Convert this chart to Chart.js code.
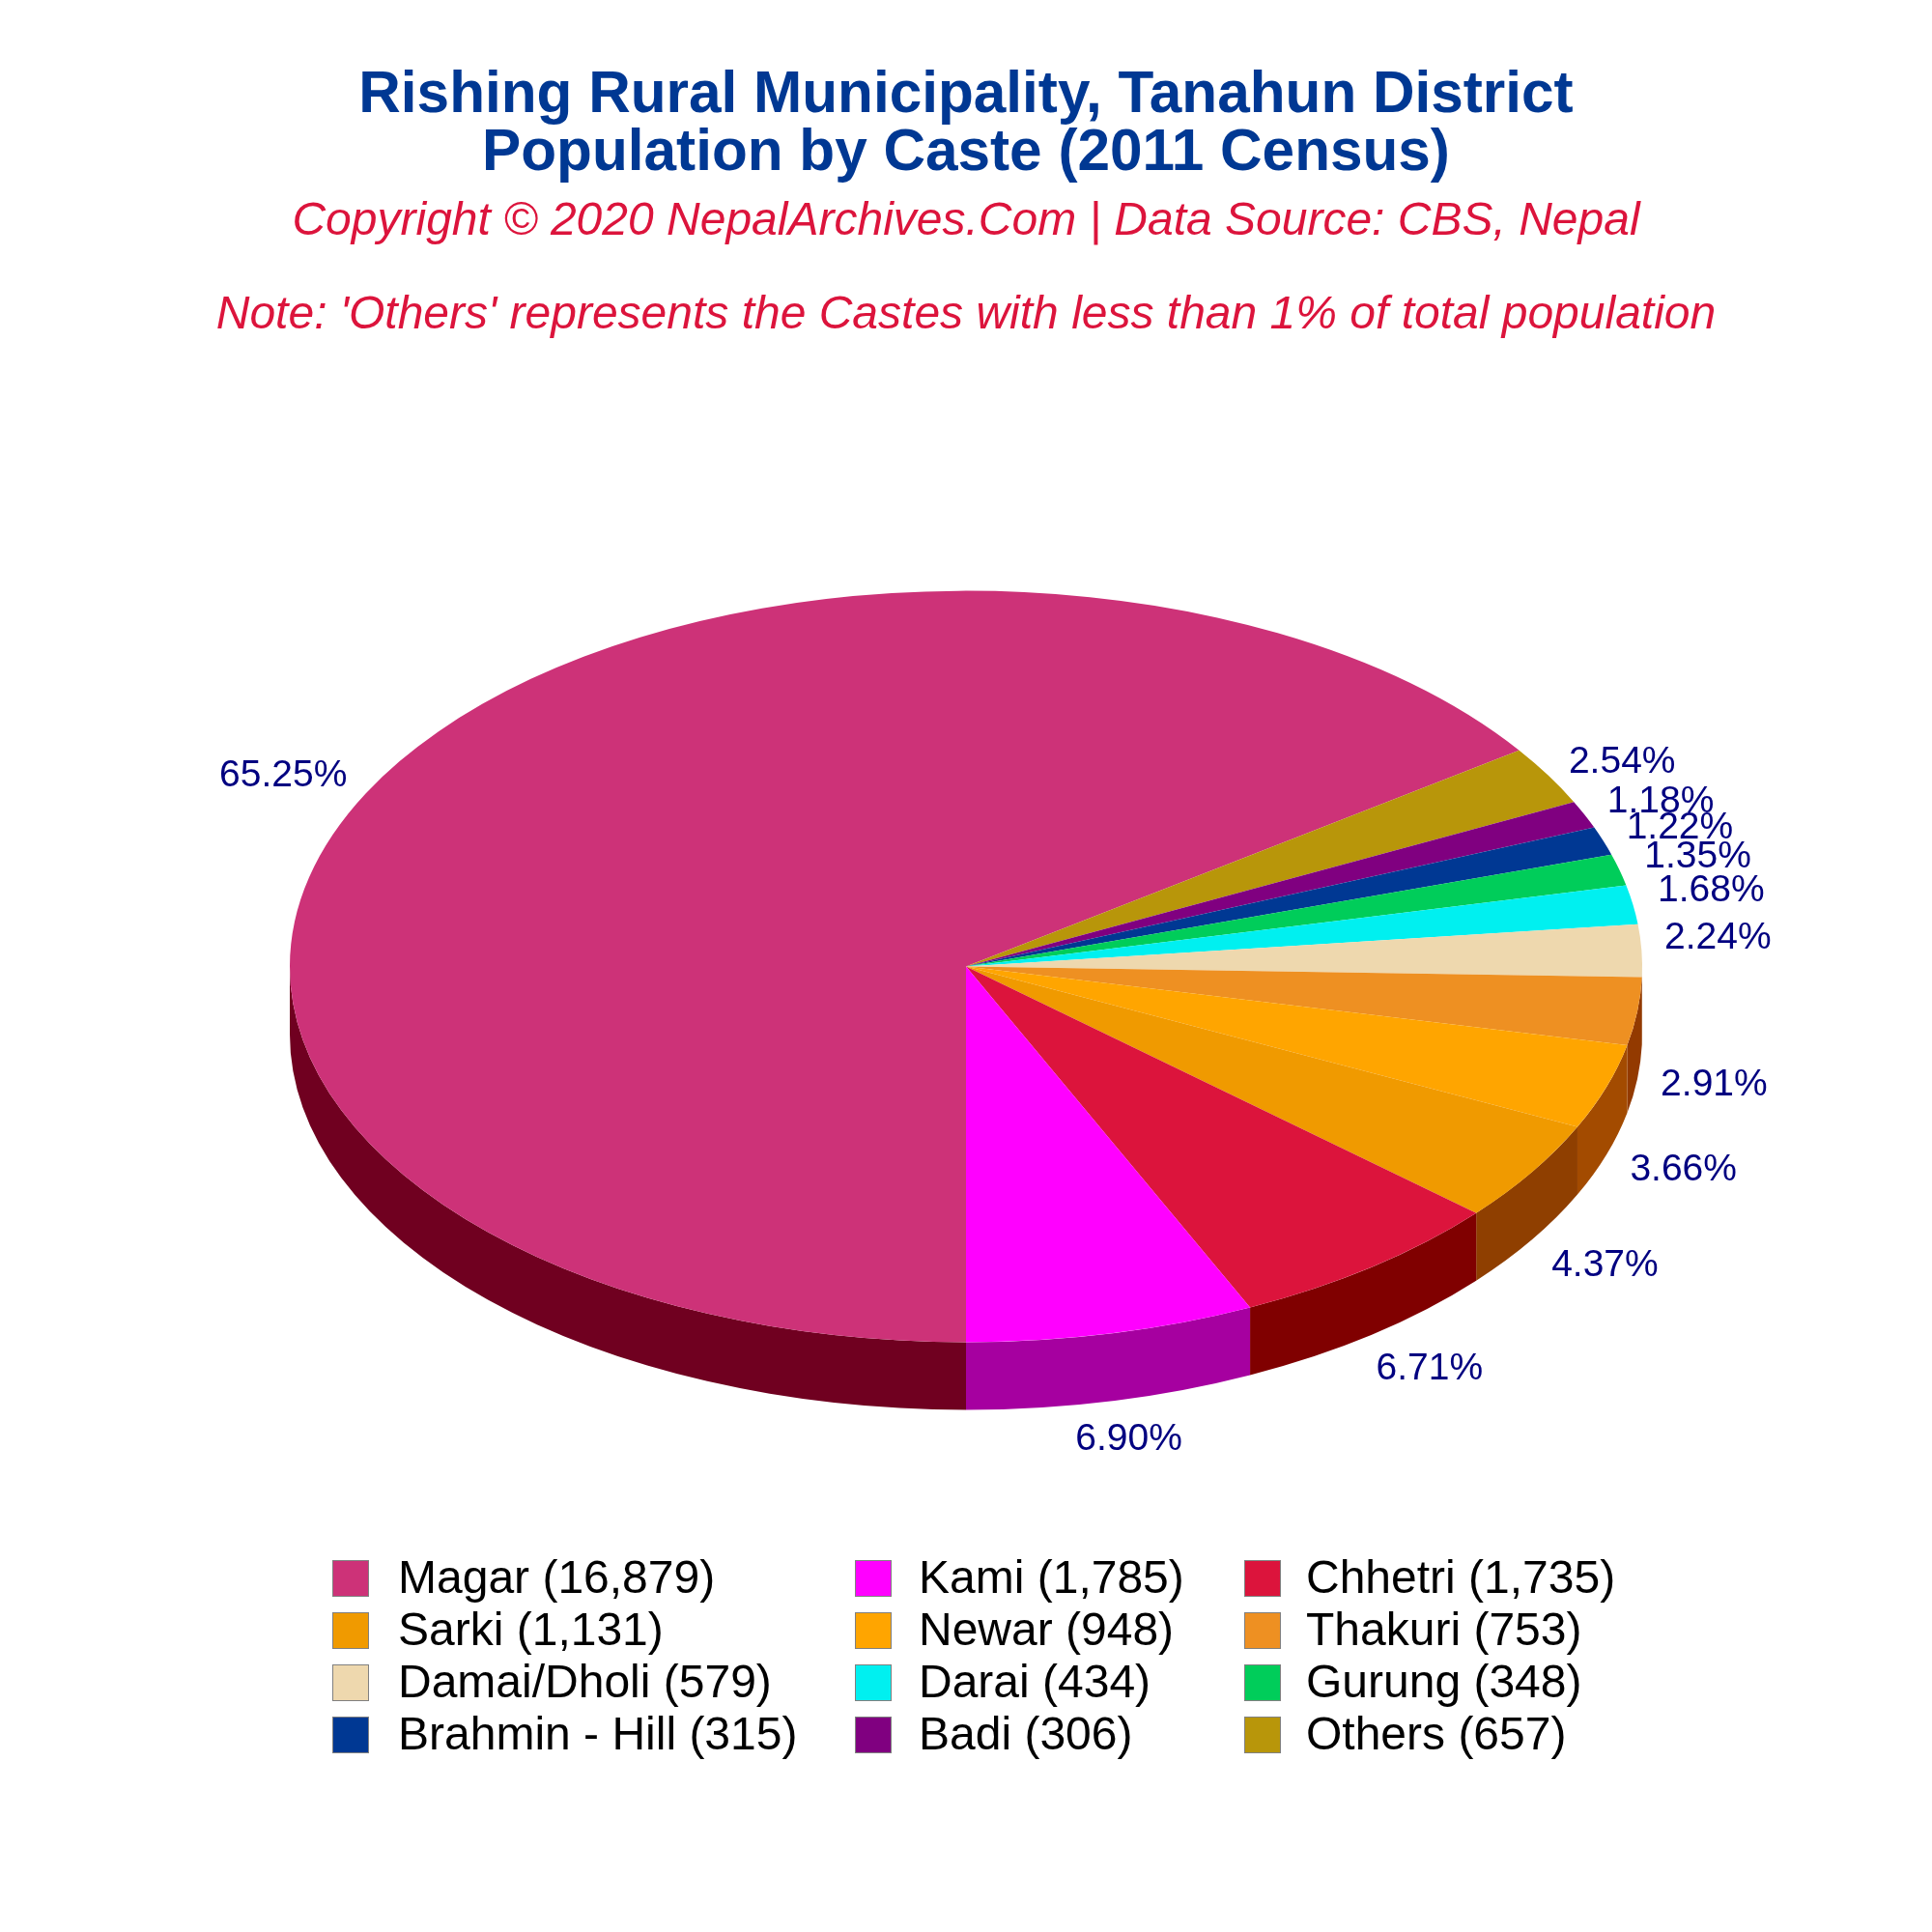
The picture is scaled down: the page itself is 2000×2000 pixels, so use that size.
<!DOCTYPE html>
<html>
<head>
<meta charset="utf-8">
<title>Rishing Rural Municipality - Population by Caste</title>
<script src="https://cdn.jsdelivr.net/npm/chart.js@4/dist/chart.umd.min.js"></script>
<style>
    html, body { margin: 0; padding: 0; background: #ffffff; }
    canvas { display: block; }
</style>
</head>
<body>
<canvas id="caste-chart" width="2000" height="2000"></canvas>
<script>
// Chart data, legend order
const categories = ['Magar', 'Kami', 'Chhetri', 'Sarki', 'Newar', 'Thakuri', 'Damai/Dholi', 'Darai', 'Gurung', 'Brahmin - Hill', 'Badi', 'Others'];
const population = [16879, 1785, 1735, 1131, 948, 753, 579, 434, 348, 315, 306, 657];
const topColors = ['#CD3278', '#FF00FF', '#DC143C', '#F09A00', '#FFA500', '#EE9022', '#EED8AE', '#00F0F0', '#00CD5A', '#003893', '#800080', '#B8960A'];
const sideColors = ['#700020', '#A600A0', '#800000', '#8F3F00', '#A34B00', '#933A00', '#9A8A70', '#009A9A', '#00803A', '#00245F', '#530053', '#78610A'];

const titleLines = ['Rishing Rural Municipality, Tanahun District', 'Population by Caste (2011 Census)'];
const subtitleLines = ['Copyright \u00A9 2020 NepalArchives.Com | Data Source: CBS, Nepal', '', "Note: 'Others' represents the Castes with less than 1% of total population"];

// Pie is squashed to look tilted, with a wall below the front edge
const TILT = 0.5556;
const WALL_DEPTH = 70;
const FONT = '"Liberation Sans", Arial, sans-serif';

// Small per-category label corrections in px, the reference spreads crowded labels
const labelShiftX = [-11, 0, 9, 5, 0, -4, -5, -2, 0, 0, 2, 4];
const labelShiftY = [0, 2, 5, 6, 4, 2, -11, -8, -3, 0, 3, 6];

// Slices run counter-clockwise from the bottom, Chart.js runs clockwise
const drawOrder = categories.map((name, i) => (i === 0 ? 0 : categories.length - i));
const total = population.reduce((sum, value) => sum + value, 0);

/**
 * Draw the wall of the slices facing the viewer
 */
function drawWalls(chart) {
    const ctx = chart.ctx;
    chart.getDatasetMeta(0).data.forEach((arc, index) => {
        const { x, y, startAngle, endAngle, outerRadius } = arc.getProps(['x', 'y', 'startAngle', 'endAngle', 'outerRadius'], true);
        const ry = outerRadius * TILT;
        // Only the canvas angles 0..PI (and again one turn on) are in front
        [0, 2 * Math.PI].forEach(turn => {
            const from = Math.max(startAngle, turn);
            const to = Math.min(endAngle, turn + Math.PI);
            if (from >= to) return;
            ctx.beginPath();
            ctx.ellipse(x, y, outerRadius, ry, 0, from, to);
            ctx.ellipse(x, y + WALL_DEPTH, outerRadius, ry, 0, to, from, true);
            ctx.closePath();
            ctx.fillStyle = sideColors[drawOrder[index]];
            ctx.fill();
        });
    });
}

const tiltPlugin = {
    id: 'tilt',
    beforeDatasetDraw(chart) {
        drawWalls(chart);
        const ctx = chart.ctx;
        const arc = chart.getDatasetMeta(0).data[0];
        ctx.save();
        ctx.translate(arc.x, arc.y);
        ctx.scale(1, TILT);
        ctx.translate(-arc.x, -arc.y);
    },
    afterDatasetDraw(chart) {
        chart.ctx.restore();
    }
};

const percentLabelPlugin = {
    id: 'percentLabels',
    afterDraw(chart) {
        const ctx = chart.ctx;
        ctx.save();
        ctx.font = '39px ' + FONT;
        ctx.fillStyle = '#000080';
        ctx.textAlign = 'center';
        ctx.textBaseline = 'middle';
        chart.getDatasetMeta(0).data.forEach((arc, index) => {
            const category = drawOrder[index];
            const mid = (arc.startAngle + arc.endAngle) / 2;
            const sin = Math.sin(mid);
            const labelX = arc.x + arc.outerRadius * 1.12 * Math.cos(mid) + labelShiftX[category];
            const labelY = arc.y + arc.outerRadius * TILT * 1.10 * sin + (sin > 0 ? WALL_DEPTH : 0) + labelShiftY[category];
            ctx.fillText((population[category] / total * 100).toFixed(2) + '%', labelX, labelY);
        });
        ctx.restore();
    }
};

const legendPlugin = {
    id: 'casteLegend',
    afterDraw(chart) {
        const ctx = chart.ctx;
        const swatchX = [344, 885, 1288];
        const textX = [412, 951, 1352];
        ctx.save();
        ctx.font = '48px ' + FONT;
        ctx.textAlign = 'left';
        ctx.textBaseline = 'middle';
        categories.forEach((name, i) => {
            const col = i % 3;
            const top = 1615 + Math.floor(i / 3) * 54;
            ctx.fillStyle = topColors[i];
            ctx.fillRect(swatchX[col], top, 38, 38);
            ctx.strokeStyle = '#808080';
            ctx.lineWidth = 1;
            ctx.strokeRect(swatchX[col] + 0.5, top + 0.5, 37, 37);
            ctx.fillStyle = '#000000';
            ctx.fillText(name + ' (' + population[i].toLocaleString('en-US') + ')', textX[col], top + 21);
        });
        ctx.restore();
    }
};

new Chart(document.getElementById('caste-chart'), {
    type: 'pie',
    data: {
        labels: drawOrder.map(i => categories[i]),
        datasets: [{
            data: drawOrder.map(i => population[i]),
            backgroundColor: drawOrder.map(i => topColors[i]),
            borderWidth: 0,
            radius: 700,
            clip: false
        }]
    },
    options: {
        responsive: false,
        animation: false,
        devicePixelRatio: 1,
        rotation: 180,
        layout: { padding: { top: 69, bottom: 350 } },
        plugins: {
            legend: { display: false },
            tooltip: { enabled: false },
            title: {
                display: true,
                text: titleLines,
                color: '#003893',
                font: { family: FONT, size: 60.3, weight: 'bold', lineHeight: 1 },
                padding: { top: 0, bottom: 16 }
            },
            subtitle: {
                display: true,
                text: subtitleLines,
                color: '#DC143C',
                font: { family: FONT, size: 48, style: 'italic', lineHeight: 1.01 },
                padding: { top: 0, bottom: 0 }
            }
        }
    },
    plugins: [tiltPlugin, percentLabelPlugin, legendPlugin]
});
</script>
</body>
</html>
